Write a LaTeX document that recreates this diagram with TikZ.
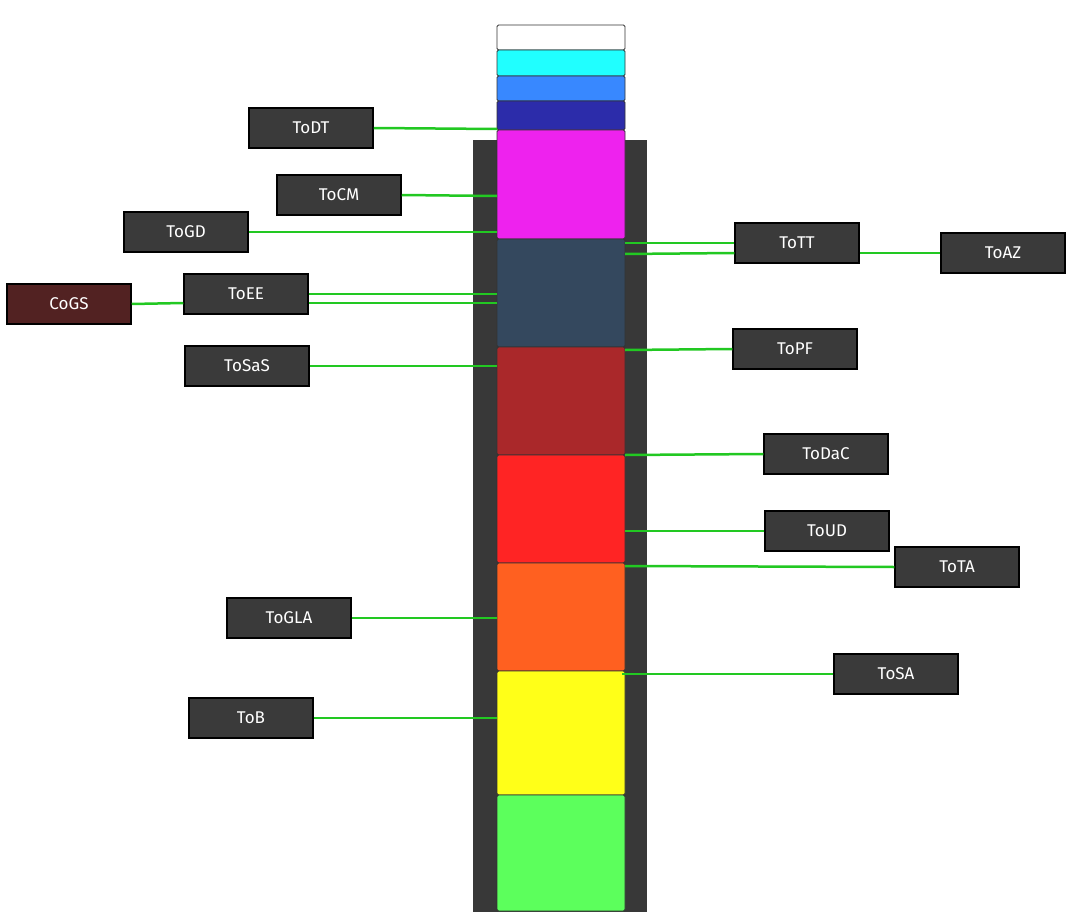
\documentclass[tikz,border=0pt]{standalone}
\usepackage{fontspec}
\setmainfont{Fira Sans}
\usepackage{tikz}
\usetikzlibrary{positioning}

\definecolor{boxgray}{RGB}{58,58,58}
\definecolor{colgray}{RGB}{56,56,56}
\definecolor{linkgreen}{RGB}{34,200,34}
\definecolor{cogsbrown}{RGB}{82,34,34}

\begin{document}
\begin{tikzpicture}[x=1pt,y=-1pt,thick]
	\tikzstyle{tag}=[draw=black,line width=1.5pt,fill=boxgray,text=white,minimum width=124pt,minimum height=40pt,inner sep=0pt,font=\fontsize{17}{17}\selectfont]
	\tikzstyle{link}=[draw=linkgreen,line width=2.5pt]
	\tikzstyle{band}=[draw=black!80,line width=0.8pt,rounded corners=1.5pt]

	\useasboundingbox (0,0) rectangle (1076,915);

	% column
	\fill[colgray] (473,140) rectangle (647,912);
	\draw[band,fill=white]            (497,25)  rectangle (625,50);
	\draw[band,fill={rgb,255:red,32;green,255;blue,255}]  (497,50)  rectangle (625,76);
	\draw[band,fill={rgb,255:red,56;green,136;blue,255}]  (497,76)  rectangle (625,101);
	\draw[band,fill={rgb,255:red,44;green,44;blue,170}]   (497,101) rectangle (625,130);
	\draw[band,fill={rgb,255:red,238;green,34;blue,238}]  (497,130) rectangle (625,239);
	\draw[band,fill={rgb,255:red,52;green,72;blue,94}]    (497,239) rectangle (625,347);
	\draw[band,fill={rgb,255:red,170;green,40;blue,42}]   (497,347) rectangle (625,455);
	\draw[band,fill={rgb,255:red,255;green,36;blue,36}]   (497,455) rectangle (625,563);
	\draw[band,fill={rgb,255:red,255;green,96;blue,32}]   (497,563) rectangle (625,671);
	\draw[band,fill={rgb,255:red,255;green,255;blue,24}]  (497,671) rectangle (625,795);
	\draw[band,fill={rgb,255:red,92;green,255;blue,92}]   (497,795) rectangle (625,911);

	% left tags
	\node[tag] (todt)  at (311,128) {ToDT};
	\node[tag] (tocm)  at (339,195) {ToCM};
	\node[tag] (togd)  at (186,232) {ToGD};
	\node[tag] (toee)  at (246,294) {ToEE};
	\node[tag,fill=cogsbrown] (cogs) at (69,304) {CoGS};
	\node[tag] (tosas) at (247,366) {ToSaS};
	\node[tag] (togla) at (289,618) {ToGLA};
	\node[tag] (tob)   at (251,718) {ToB};
	% right tags
	\node[tag] (tott)  at (797,243) {ToTT};
	\node[tag] (toaz)  at (1003,253) {ToAZ};
	\node[tag] (topf)  at (795,349) {ToPF};
	\node[tag] (todac) at (826,454) {ToDaC};
	\node[tag] (toud)  at (827,531) {ToUD};
	\node[tag] (tota)  at (957,567) {ToTA};
	\node[tag] (tosa)  at (896,674) {ToSA};

	% ends on the column
	\coordinate (dt)  at (497,129);
	\coordinate (cm)  at (497,196);
	\coordinate (gd)  at (497,232);
	\coordinate (ee1) at (497,294);
	\coordinate (ee2) at (497,303);
	\coordinate (sas) at (497,366);
	\coordinate (gla) at (497,618);
	\coordinate (b)   at (497,718);
	\coordinate (tt1) at (625,243);
	\coordinate (tt2) at (625,254);
	\coordinate (pf)  at (625,350);
	\coordinate (dac) at (625,455);
	\coordinate (ud)  at (625,531);
	\coordinate (ta)  at (625,566);
	\coordinate (sa)  at (622,674);

	\draw[link] (todt.east) -- (dt);
	\draw[link] (tocm.east) -- (cm);
	\draw[link] (togd.east) -- (gd);
	\draw[link] (toee.east) -- (ee1);
	\draw[link] ([yshift=-9pt]toee.east) -- (ee2);
	\draw[link] (cogs.east) -- ([yshift=-9pt]toee.west);
	\draw[link] (tosas.east) -- (sas);
	\draw[link] (togla.east) -- (gla);
	\draw[link] (tob.east) -- (b);
	\draw[link] (tott.west) -- (tt1);
	\draw[link] ([yshift=-10pt]tott.west) -- (tt2);
	\draw[link] ([yshift=-10pt]tott.east) -- (toaz.west);
	\draw[link] (topf.west) -- (pf);
	\draw[link] (todac.west) -- (dac);
	\draw[link] (toud.west) -- (ud);
	\draw[link] (tota.west) -- (ta);
	\draw[link] (tosa.west) -- (sa);
\end{tikzpicture}
\end{document}
